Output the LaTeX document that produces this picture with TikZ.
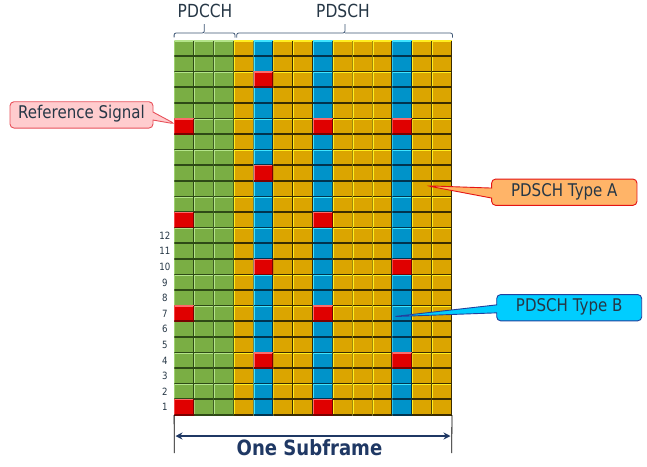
\documentclass[tikz,border=0pt]{standalone}
\usepackage{fontspec}
\newfontfamily\tah[FakeStretch=0.86]{DejaVu Sans}
\usetikzlibrary{shapes.callouts,arrows.meta,calc}
\definecolor{gfill}{HTML}{7AAE44}
\definecolor{glight}{HTML}{B4E48A}
\definecolor{gdark}{HTML}{2E4A16}
\definecolor{ofill}{HTML}{DBA500}
\definecolor{olight}{HTML}{FFEE20}
\definecolor{odark}{HTML}{3A2C00}
\definecolor{bfill}{HTML}{0093C9}
\definecolor{blight}{HTML}{3FE4FF}
\definecolor{bdark}{HTML}{00344F}
\definecolor{rfill}{HTML}{E00000}
\definecolor{rlight}{HTML}{FF6A6A}
\definecolor{rdark}{HTML}{7A0000}
\definecolor{txt}{HTML}{263746}
\definecolor{bracec}{HTML}{3D5574}
\definecolor{navy}{HTML}{1F3864}
\definecolor{rsfill}{HTML}{FFCCCE}
\definecolor{rsline}{HTML}{E8505A}
\definecolor{tafill}{HTML}{FFB468}
\definecolor{taline}{HTML}{E41414}
\definecolor{tbfill}{HTML}{00CDFF}
\definecolor{tbline}{HTML}{22409E}
\newcommand\cellbevel[2]{%
  \draw[#1,line width=2pt] (path picture bounding box.south west) -- (path picture bounding box.north west) -- (path picture bounding box.north east);
  \draw[#2,line width=2pt] (path picture bounding box.south west) -- (path picture bounding box.south east) -- (path picture bounding box.north east);}
\tikzset{
  cellbase/.style={rectangle, inner sep=0pt, minimum width=19.82pt, minimum height=15.6pt},
  cellg/.style={cellbase, fill=gfill, path picture={\cellbevel{glight}{gdark}}},
  cello/.style={cellbase, fill=ofill, path picture={\cellbevel{olight}{odark}}},
  cellb/.style={cellbase, fill=bfill, path picture={\cellbevel{blight}{bdark}}},
  cellr/.style={cellbase, fill=rfill, path picture={\cellbevel{rlight}{rdark}}},
  numlab/.style={font=\tah\fontsize{10}{12}\selectfont, text=txt, inner sep=0pt, text height=7.3pt, text depth=0pt},
  head/.style={font=\tah\fontsize{18}{21}\selectfont, text=txt, inner sep=0pt, anchor=base},
  bracket/.style={draw=bracec, line width=0.8pt, rounded corners=2pt},
  callbox/.style={rectangle callout, rounded corners=4pt, line width=0.9pt, font=\tah\fontsize{17.5}{20}\selectfont, text=txt, inner sep=0pt, text height=12.6pt, text depth=5pt, minimum height=26.3pt},
}
\begin{document}
\begin{tikzpicture}[x=1pt,y=-1pt]
\useasboundingbox[fill=white] (0,0) rectangle (647,466);
% grid
\foreach \i/\t in {1/g,2/g,3/g,4/o,5/b,6/o,7/o,8/b,9/o,10/o,11/o,12/b,13/o,14/o}
  \foreach \j in {1,...,24}
    \node[cell\t] (c-\i-\j) at ({174.3+(\i-0.5)*19.82},{415-(\j-0.5)*15.6}) {};
\foreach \i/\j in {1/1,1/7,1/13,1/19,5/4,5/10,5/16,5/22,8/1,8/7,8/13,8/19,12/4,12/10,12/19}
  \node[cellr] (r-\i-\j) at (c-\i-\j) {};
% row numbers
\foreach \j in {1,...,12}
  \node[numlab] (n-\j) at ({164.8},{415-(\j-0.5)*15.6}) {\j};
% headers
\node[head] (pdcch) at (205,17.3) {PDCCH};
\node[head] (pdsch) at (343,17.3) {PDSCH};
\draw[bracket] (c-1-24.north west) ++(0,-3) |- (204.3,33) -- (204.3,24);
\draw[bracket] (204.3,33) -| (235,37.5);
\draw[bracket] (236.7,37.5) |- (345,33) -- (345,24);
\draw[bracket] (345,33) -| (452.5,37.5);
% subframe
\coordinate (vl) at (174.3,453);
\coordinate (vr) at (451.7,453);
\draw[line width=0.8pt] (c-1-1.south west) -- (vl);
\draw[line width=0.8pt] (c-14-1.south east) -- (vr);
\coordinate (al) at (175.5,436);
\coordinate (ar) at (450.5,436);
\draw[navy, line width=1.8pt, {Stealth[length=7pt,width=7pt]}-{Stealth[length=7pt,width=7pt]}] (al) -- (ar);
\node[font=\tah\bfseries\fontsize{21}{24}\selectfont, text=navy, inner sep=0pt, anchor=base] (sub) at (309.5,455) {One Subframe};
% callouts
\node[callbox, fill=rsfill, draw=rsline, minimum width=143pt, callout absolute pointer={($(r-1-19.west)+(1,-2.5)$)}, callout pointer width=8pt] (refsig) at (81.5,114.9) {Reference Signal};
\node[callbox, fill=tafill, draw=taline, minimum width=145.3pt, callout absolute pointer={($(c-13-15.center)+(5,-3)$)}, callout pointer width=10pt] (typea) at (564.3,192.2) {PDSCH Type A};
\node[callbox, fill=tbfill, draw=tbline, minimum width=145pt, callout absolute pointer={($(c-12-7.west)+(1,3)$)}, callout pointer width=8pt] (typeb) at (569.2,307.7) {PDSCH Type B};
\end{tikzpicture}
\end{document}
